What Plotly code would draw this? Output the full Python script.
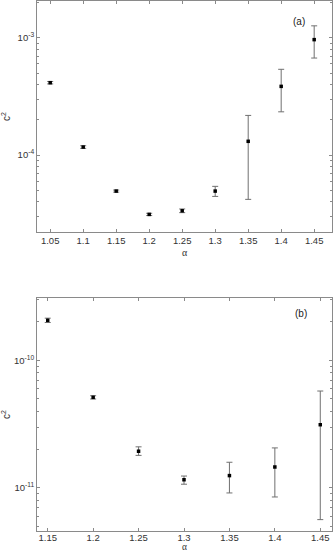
import plotly.graph_objects as go
from plotly.subplots import make_subplots
import numpy as np

# Panel (a)
alpha_a = [1.05, 1.10, 1.15, 1.20, 1.25, 1.30, 1.35, 1.40, 1.45]
c2_a = [4.15e-4, 1.17e-4, 4.92e-5, 3.11e-5, 3.34e-5, 4.92e-5, 1.31e-4, 3.86e-4, 9.68e-4]
c2_a_hi = [4.25e-4, 1.20e-4, 5.02e-5, 3.18e-5, 3.46e-5, 5.40e-5, 2.18e-4, 5.40e-4, 1.27e-3]
c2_a_lo = [4.05e-4, 1.14e-4, 4.82e-5, 3.04e-5, 3.22e-5, 4.43e-5, 4.18e-5, 2.34e-4, 6.74e-4]

# Panel (b)
alpha_b = [1.15, 1.20, 1.25, 1.30, 1.35, 1.40, 1.45]
c2_b = [2.06e-10, 5.13e-11, 1.94e-11, 1.16e-11, 1.25e-11, 1.46e-11, 3.13e-11]
c2_b_hi = [2.14e-10, 5.28e-11, 2.10e-11, 1.24e-11, 1.59e-11, 2.06e-11, 5.75e-11]
c2_b_lo = [1.98e-10, 4.98e-11, 1.80e-11, 1.07e-11, 9.14e-12, 8.50e-12, 5.65e-12]

xticks_a = [1.05, 1.1, 1.15, 1.2, 1.25, 1.3, 1.35, 1.4, 1.45]
xticks_b = [1.15, 1.2, 1.25, 1.3, 1.35, 1.4, 1.45]
yticks_a = [1e-4, 1e-3]
yticks_b = [1e-11, 1e-10]
ytext_a = ["10<sup>-4</sup>", "10<sup>-3</sup>"]
ytext_b = ["10<sup>-11</sup>", "10<sup>-10</sup>"]

W, H = 333, 553
fig = make_subplots(rows=2, cols=1)

def add_panel(row, x, y, hi, lo):
    fig.add_trace(go.Scatter(
        x=x, y=y, mode="markers",
        marker=dict(color="black", size=3.5, symbol="square"),
        error_y=dict(type="data", symmetric=False,
                     array=[h - v for h, v in zip(hi, y)],
                     arrayminus=[v - l for v, l in zip(y, lo)],
                     color="#707070", thickness=1, width=3),
        showlegend=False), row=row, col=1)

add_panel(1, alpha_a, c2_a, c2_a_hi, c2_a_lo)
add_panel(2, alpha_b, c2_b, c2_b_hi, c2_b_lo)

def minor_vals(lo_exp, hi_exp):
    v = []
    for e in range(lo_exp, hi_exp + 1):
        for m in range(2, 10):
            v.append(m * 10.0 ** e)
    return v

axis_common = dict(showline=True, linecolor="#8a8a8a", linewidth=1, mirror="ticks",
                   ticks="inside", ticklen=3, tickcolor="#8a8a8a", showgrid=False,
                   zeroline=False, tickfont=dict(family="Liberation Sans, Arial", size=9.5, color="#333"))

x0 = 37 / W
x1 = 332 / W
fig.update_layout(
    width=W, height=H, margin=dict(l=0, r=0, t=0, b=0),
    plot_bgcolor="white", paper_bgcolor="white",
    xaxis=dict(domain=[x0, x1], range=[1.030, 1.477], tickvals=xticks_a,
               ticktext=[f"{v:g}" for v in xticks_a], anchor="y", **axis_common),
    yaxis=dict(domain=[1 - 232 / H, 1 - 1 / H], type="log", range=[np.log10(2.2e-5), np.log10(2.07e-3)],
               tickvals=yticks_a, ticktext=ytext_a, anchor="x",
               minor=dict(tickvals=minor_vals(-5, -3), ticklen=2, tickcolor="#8a8a8a", ticks="inside"),
               **axis_common,
               title=dict(text="c<sup>2</sup>", font=dict(family="Liberation Sans", size=10, color="#333"), standoff=6)),
    xaxis2=dict(domain=[x0, x1], range=[1.1382, 1.4629], tickvals=xticks_b,
                ticktext=[f"{v:g}" for v in xticks_b], anchor="y2", ticklabelstandoff=-2, **axis_common),
    yaxis2=dict(domain=[1 - 531 / H, 1 - 298 / H], type="log", range=[np.log10(4.6e-12), np.log10(3.08e-10)],
                tickvals=yticks_b, ticktext=ytext_b, anchor="x2",
                minor=dict(tickvals=minor_vals(-12, -10), ticklen=2, tickcolor="#8a8a8a", ticks="inside"),
                **axis_common,
                title=dict(text="c<sup>2</sup>", font=dict(family="Liberation Sans", size=10, color="#333"), standoff=4)),
)

afont = dict(family="Liberation Serif", size=10, color="#333")
fig.add_annotation(text="α", xref="paper", yref="paper", x=(37 + 332) / 2 / W, y=1 - 252 / H,
                   showarrow=False, font=afont, yanchor="middle")
fig.add_annotation(text="α", xref="paper", yref="paper", x=(37 + 332) / 2 / W, y=0,
                   showarrow=False, font=dict(family="Liberation Serif", size=9.5, color="#333"),
                   yanchor="bottom", borderpad=0)

fig.add_annotation(text="(a)", xref="paper", yref="paper", x=307 / W, y=1 - 14 / H,
                   showarrow=False, font=dict(family="Liberation Sans, Arial", size=10, color="#222"))
fig.add_annotation(text="(b)", xref="paper", yref="paper", x=309 / W, y=1 - 313 / H,
                   showarrow=False, font=dict(family="Liberation Sans, Arial", size=10, color="#222"))

fig.write_html("out.html", config={"displayModeBar": False},
               post_script="document.body.style.margin='0';document.body.style.overflow='hidden';")
